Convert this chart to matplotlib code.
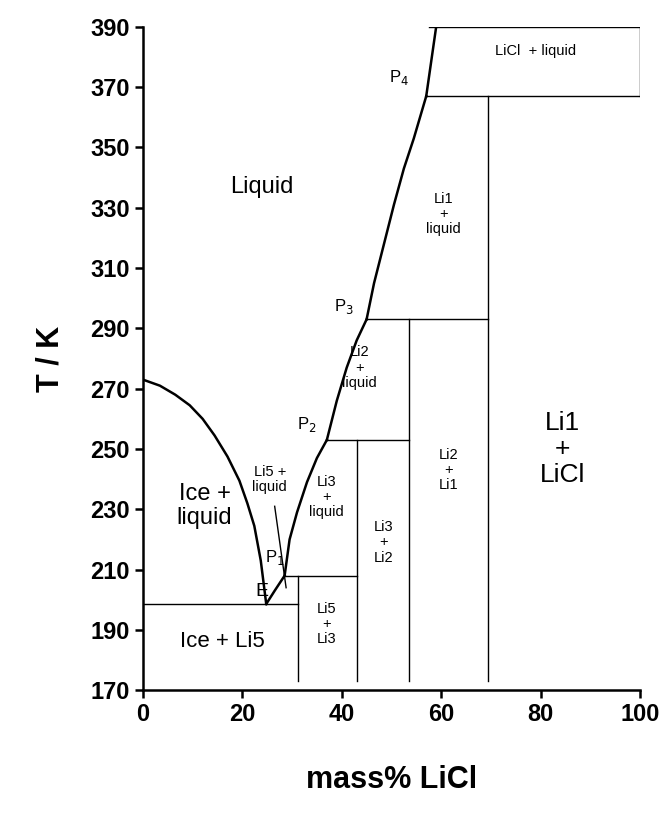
import matplotlib.pyplot as plt
import numpy as np

# liquidus branches (mass% LiCl, T/K)
ice_x = [0, 3.4, 6.5, 9.4, 12, 14.4, 17, 19.4, 21, 22.4, 23.7, 24.8]
ice_t = [273, 271, 268, 264.5, 260, 254.5, 247.5, 239.5, 232, 224.5, 213, 198.6]
li5_x = [24.8, 26.5, 28.5]
li5_t = [198.6, 203, 208]
li3_x = [28.5, 29.5, 31, 33, 35, 37]
li3_t = [208, 220, 229, 239, 247, 253]
li2_x = [37, 39, 41, 43, 45]
li2_t = [253, 266, 277, 286, 293]
li1_x = [45, 46.5, 48.5, 50.5, 52.5, 54.5, 57]
li1_t = [293, 305, 318, 331, 343, 353, 367]
licl_x = [57, 59]
licl_t = [367, 390]

# horizontal invariant lines: (T, x_start, x_end)
hlines = [(198.6, 0, 31.2), (208, 28.5, 43), (253, 37, 53.5),
          (293, 45, 69.5), (367, 57, 100)]
# vertical compound lines: (x, T_top)
vlines = [(31.2, 208), (43, 253), (53.5, 293), (69.5, 367)]

labels = [(24, 337, "Liquid", 17), (12.4, 231, "Ice +\nliquid", 17),
          (16, 186, "Ice + Li5", 16), (25.5, 240, "Li5 +\nliquid", 10.5),
          (37, 234, "Li3\n+\nliquid", 10.5), (37, 192, "Li5\n+\nLi3", 10.5),
          (48.5, 219, "Li3\n+\nLi2", 10.5), (43.5, 277, "Li2\n+\nliquid", 10.5),
          (61.5, 243, "Li2\n+\nLi1", 10.5), (60.5, 328, "Li1\n+\nliquid", 10.5),
          (84.5, 250, "Li1\n+\nLiCl", 19), (79, 382, "LiCl  + liquid", 10.5)]

fig = plt.figure(figsize=(6.59, 8.13), dpi=100)
ax = fig.add_axes([0.217, 0.151, 0.754, 0.816])
for xs, ts in [(ice_x, ice_t), (li5_x, li5_t), (li3_x, li3_t),
               (li2_x, li2_t), (li1_x, li1_t), (licl_x, licl_t)]:
    ax.plot(xs, ts, color='black', lw=1.8)
for t, a, b in hlines:
    ax.plot([a, b], [t, t], color='black', lw=1)
for x, top in vlines:
    ax.plot([x, x], [173, top], color='black', lw=1)
ax.plot([100, 100], [367, 390], color='black', lw=1)
ax.plot([57.5, 100], [390, 390], color='black', lw=1)
ax.plot([26.5, 28.8], [231, 204], color='black', lw=1)

for x, t, s, fs in labels:
    ax.text(x, t, s, ha='center', va='center', fontsize=fs,
            family='Liberation Sans', linespacing=1.1)
for x, t, s in [(24, 200, "E"), (26.5, 211, "P$_1$"), (33, 255, "P$_2$"),
                (40.5, 294, "P$_3$"), (51.5, 370, "P$_4$")]:
    ax.text(x, t, s, ha='center', va='bottom', fontsize=14 if s == "E" else 12,
            family='Liberation Sans')

ax.set_xlim(0, 100)
ax.set_ylim(170, 390)
ax.set_xticks(np.arange(0, 101, 20))
ax.set_yticks(np.arange(170, 391, 20))
for sp in ['top', 'right']:
    ax.spines[sp].set_visible(False)
for sp in ['left', 'bottom']:
    ax.spines[sp].set_linewidth(1.8)
ax.tick_params(direction='out', width=1.8, length=6)
for lab in ax.get_xticklabels() + ax.get_yticklabels():
    lab.set_fontsize(17)
    lab.set_fontweight('bold')
    lab.set_family('Liberation Sans')
ax.set_xlabel("mass% LiCl", fontsize=22, fontweight='bold',
              family='Liberation Sans', labelpad=28)
ax.set_ylabel("T / K", fontsize=22, fontweight='bold',
              family='Liberation Sans', labelpad=18)
fig.savefig("out.png", dpi=100)
